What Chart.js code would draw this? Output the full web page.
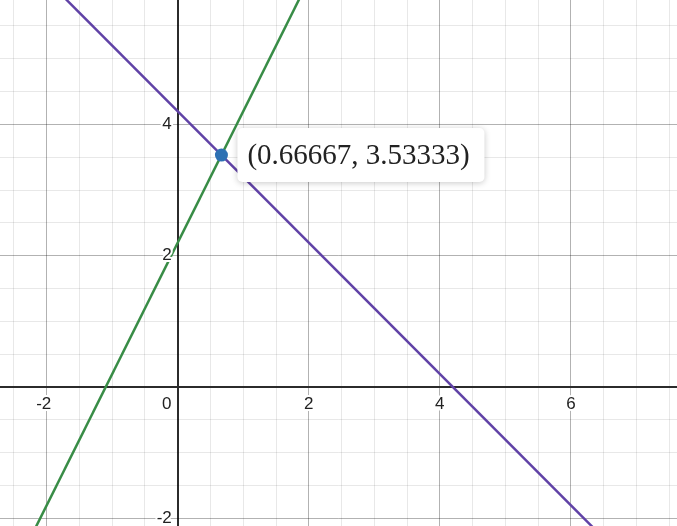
<!DOCTYPE html>
<html>
<head>
<meta charset="utf-8">
<script src="https://cdn.jsdelivr.net/npm/chart.js@4.4.1/dist/chart.umd.min.js"></script>
<style>
    body { margin: 0; background: #fff; }
    #wrap { width: 677px; height: 526px; position: relative; }
</style>
</head>
<body>
<div id="wrap"><canvas id="graph"></canvas></div>
<script>
// view window
const xRange = [-2.713, 7.62];
const yRange = [-2.116, 5.895];

// lines (endpoints run past the view)
const greenX = [-2.5, 2.0];
const greenY = [-2.8, 6.2];
const purpleX = [-3.0, 7.0];
const purpleY = [7.2, -2.8];

// intersection point
const pointX = [0.66667];
const pointY = [3.53333];
const pointLabel = "(0.66667, 3.53333)";

// axis numbers
const xTickLabels = [-2, 0, 2, 4, 6];
const yTickLabels = [-2, 2, 4];

function toPoints(xs, ys) {
    return xs.map((x, i) => ({ x: x, y: ys[i] }));
}

function gridColor(ctx) {
    let v = ctx.tick ? ctx.tick.value : 1;
    if (Math.abs(v) < 1e-6) return "#2b2b2b";
    if (Math.abs(v % 2) < 1e-6) return "rgba(0,0,0,0.3)";
    return "rgba(0,0,0,0.09)";
}

function gridWidth(ctx) {
    let v = ctx.tick ? ctx.tick.value : 1;
    if (Math.abs(v) < 1e-6) return 2;
    return 1;
}

// desmos style numbers beside the axes
const axisLabels = {
    id: "axisLabels",
    afterDatasetsDraw: function(chart) {
        const c = chart.ctx, xs = chart.scales.x, ys = chart.scales.y;
        const x0 = xs.getPixelForValue(0), y0 = ys.getPixelForValue(0);
        c.save();
        c.font = "17px 'Liberation Sans', Arial, sans-serif";
        c.fillStyle = "#222";
        c.strokeStyle = "#fff";
        c.lineWidth = 4;
        c.lineJoin = "round";
        c.textBaseline = "middle";
        xTickLabels.forEach(function(v) {
            let px = xs.getPixelForValue(v), py = y0 + 17;
            c.textAlign = "center";
            if (v === 0) { px = x0 - 11; }
            if (v < 0) { px -= 3; }
            c.strokeText(String(v), px, py);
            c.fillText(String(v), px, py);
        });
        yTickLabels.forEach(function(v) {
            let py = ys.getPixelForValue(v);
            c.textAlign = "right";
            c.strokeText(String(v), x0 - 6, py);
            c.fillText(String(v), x0 - 6, py);
        });
        c.restore();
    }
};

// label box next to the intersection
const pointBox = {
    id: "pointBox",
    afterDraw: function(chart) {
        const c = chart.ctx;
        const px = chart.scales.x.getPixelForValue(pointX[0]);
        const py = chart.scales.y.getPixelForValue(pointY[0]);
        const bx = px + 16, by = py - 27, bw = 247, bh = 54;
        c.save();
        c.shadowColor = "rgba(0,0,0,0.22)";
        c.shadowBlur = 6;
        c.shadowOffsetY = 1;
        c.fillStyle = "#fff";
        c.beginPath();
        c.roundRect(bx, by, bw, bh, 5);
        c.fill();
        c.restore();
        c.save();
        c.font = "29px 'Liberation Serif', 'DejaVu Serif', serif";
        c.fillStyle = "#222";
        c.textBaseline = "alphabetic";
        c.textAlign = "left";
        c.fillText(pointLabel, bx + 10, py + 9);
        c.restore();
    }
};

const graph = new Chart(document.getElementById("graph"), {
    type: "scatter",
    data: {
        datasets: [{
            label: "point",
            data: toPoints(pointX, pointY),
            pointRadius: 6.5,
            pointBackgroundColor: "#2d70b3",
            pointBorderWidth: 0
        }, {
            label: "purple",
            data: toPoints(purpleX, purpleY),
            showLine: true,
            borderColor: "#6042a6",
            borderWidth: 2.5,
            pointRadius: 0
        }, {
            label: "green",
            data: toPoints(greenX, greenY),
            showLine: true,
            borderColor: "#388c46",
            borderWidth: 2.5,
            pointRadius: 0
        }]
    },
    options: {
        responsive: true,
        maintainAspectRatio: false,
        animation: false,
        layout: { padding: 0, autoPadding: false },
        plugins: {
            legend: { display: false },
            tooltip: { enabled: false }
        },
        scales: {
            x: {
                type: "linear",
                min: xRange[0],
                max: xRange[1],
                border: { display: false },
                ticks: { display: false, stepSize: 0.5, includeBounds: false },
                grid: { color: gridColor, lineWidth: gridWidth, drawTicks: false }
            },
            y: {
                type: "linear",
                min: yRange[0],
                max: yRange[1],
                border: { display: false },
                ticks: { display: false, stepSize: 0.5, includeBounds: false },
                grid: { color: gridColor, lineWidth: gridWidth, drawTicks: false }
            }
        }
    },
    plugins: [axisLabels, pointBox]
});
</script>
</body>
</html>
